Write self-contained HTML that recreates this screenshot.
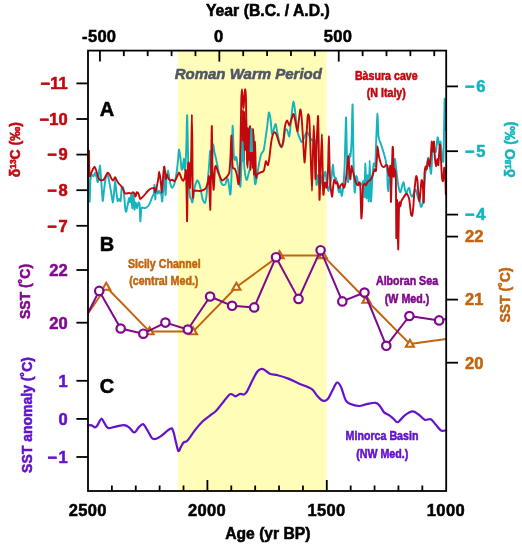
<!DOCTYPE html>
<html><head><meta charset="utf-8"><title>Roman Warm Period</title>
<style>html,body{margin:0;padding:0;background:#fff;}svg{display:block;}</style>
</head><body>
<svg width="522" height="550" viewBox="0 0 522 550" font-family="'Liberation Sans', Arial, Helvetica, sans-serif"><rect x="0" y="0" width="522" height="550" fill="#fff"/>
<rect x="177.9" y="50.6" width="148.70" height="440.40" fill="#FFFDB7"/>
<path d="M88.00,425.10 C88.62,425.15 90.50,425.02 91.70,425.40 C92.90,425.78 94.17,427.55 95.20,427.40 C96.23,427.25 96.88,425.95 97.90,424.50 C98.92,423.05 100.25,419.02 101.30,418.70 C102.35,418.38 103.08,421.07 104.20,422.60 C105.32,424.13 106.25,427.20 108.00,427.90 C109.75,428.60 111.98,427.27 114.70,426.80 C117.42,426.33 121.90,425.00 124.30,425.10 C126.70,425.20 127.43,426.17 129.10,427.40 C130.77,428.63 132.70,432.50 134.30,432.50 C135.90,432.50 137.23,428.80 138.70,427.40 C140.17,426.00 141.67,423.63 143.10,424.10 C144.53,424.57 145.63,427.73 147.30,430.20 C148.97,432.67 151.02,437.78 153.10,438.90 C155.18,440.02 156.93,438.60 159.80,436.90 C162.67,435.20 168.07,429.65 170.30,428.70 C172.53,427.75 172.25,428.92 173.20,431.20 C174.15,433.48 175.13,439.10 176.00,442.40 C176.87,445.70 177.60,450.20 178.40,451.00 C179.20,451.80 179.92,448.63 180.80,447.20 C181.68,445.77 182.58,443.52 183.70,442.40 C184.82,441.28 185.58,442.58 187.50,440.50 C189.42,438.42 192.65,433.10 195.20,429.90 C197.75,426.70 200.25,423.75 202.80,421.30 C205.35,418.85 208.27,416.95 210.50,415.20 C212.73,413.45 213.97,413.13 216.20,410.80 C218.43,408.47 221.67,403.92 223.90,401.20 C226.13,398.48 228.17,395.62 229.60,394.50 C231.03,393.38 231.53,394.18 232.50,394.50 C233.47,394.82 234.12,396.50 235.40,396.40 C236.68,396.30 238.77,394.22 240.20,393.90 C241.63,393.58 242.88,394.88 244.00,394.50 C245.12,394.12 245.47,394.00 246.90,391.60 C248.33,389.20 250.85,383.45 252.60,380.10 C254.35,376.75 255.97,373.35 257.40,371.50 C258.83,369.65 260.08,369.32 261.20,369.00 C262.32,368.68 262.65,368.80 264.10,369.60 C265.55,370.40 267.63,372.85 269.90,373.80 C272.17,374.75 274.65,374.50 277.70,375.30 C280.75,376.10 284.70,377.25 288.20,378.60 C291.70,379.95 294.87,381.72 298.70,383.40 C302.53,385.08 308.17,386.70 311.20,388.70 C314.23,390.70 314.98,393.42 316.90,395.40 C318.82,397.38 320.93,399.95 322.70,400.60 C324.47,401.25 325.90,400.95 327.50,399.30 C329.10,397.65 330.72,393.48 332.30,390.70 C333.88,387.92 335.57,383.25 337.00,382.60 C338.43,381.95 339.45,383.87 340.90,386.80 C342.35,389.73 344.10,397.32 345.70,400.20 C347.30,403.08 348.27,403.13 350.50,404.10 C352.73,405.07 356.37,406.00 359.10,406.00 C361.83,406.00 364.17,404.63 366.90,404.10 C369.63,403.57 373.35,402.50 375.50,402.80 C377.65,403.10 378.37,404.30 379.80,405.90 C381.23,407.50 382.52,410.83 384.10,412.40 C385.68,413.97 387.72,414.23 389.30,415.30 C390.88,416.37 392.17,417.65 393.60,418.80 C395.03,419.95 396.03,422.78 397.90,422.20 C399.77,421.62 402.35,417.10 404.80,415.30 C407.25,413.50 410.30,411.53 412.60,411.40 C414.90,411.27 416.58,413.12 418.60,414.50 C420.62,415.88 422.68,418.90 424.70,419.70 C426.72,420.50 428.83,418.45 430.70,419.30 C432.57,420.15 434.18,422.93 435.90,424.80 C437.62,426.67 439.28,429.58 441.00,430.50 C442.72,431.42 445.33,430.33 446.20,430.30" fill="none" stroke="#6412CC" stroke-width="2.2" stroke-linejoin="round" stroke-linecap="round"/>
<path d="M88.00,313.50 L106.20,287.00 L149.60,331.60 L193.00,331.60 L236.40,287.00 L279.60,255.40 L322.90,255.40 L366.40,300.00 L409.90,344.10 L446.20,339.00" fill="none" stroke="#C2650F" stroke-width="2" stroke-linejoin="round"/>
<path d="M106.20,282.80 L110.20,289.70 L102.20,289.70 Z" fill="#fff" stroke="#C2650F" stroke-width="2.1"/>
<path d="M149.60,327.40 L153.60,334.30 L145.60,334.30 Z" fill="#fff" stroke="#C2650F" stroke-width="2.1"/>
<path d="M193.00,327.40 L197.00,334.30 L189.00,334.30 Z" fill="#fff" stroke="#C2650F" stroke-width="2.1"/>
<path d="M236.40,282.80 L240.40,289.70 L232.40,289.70 Z" fill="#fff" stroke="#C2650F" stroke-width="2.1"/>
<path d="M279.60,251.20 L283.60,258.10 L275.60,258.10 Z" fill="#fff" stroke="#C2650F" stroke-width="2.1"/>
<path d="M322.90,251.20 L326.90,258.10 L318.90,258.10 Z" fill="#fff" stroke="#C2650F" stroke-width="2.1"/>
<path d="M366.40,295.80 L370.40,302.70 L362.40,302.70 Z" fill="#fff" stroke="#C2650F" stroke-width="2.1"/>
<path d="M409.90,339.90 L413.90,346.80 L405.90,346.80 Z" fill="#fff" stroke="#C2650F" stroke-width="2.1"/>
<path d="M88.00,313.00 L99.20,290.90 L120.70,328.50 L143.30,333.70 L165.40,322.60 L187.80,329.50 L210.10,296.50 L232.10,305.80 L254.20,307.40 L276.00,257.20 L298.50,298.90 L320.60,250.20 L342.30,301.40 L364.50,292.50 L386.30,345.80 L409.40,316.00 L439.10,320.40 L446.20,319.00" fill="none" stroke="#80088E" stroke-width="2" stroke-linejoin="round"/>
<circle cx="99.2" cy="290.9" r="4.2" fill="#fff" stroke="#80088E" stroke-width="2.2"/>
<circle cx="120.7" cy="328.5" r="4.2" fill="#fff" stroke="#80088E" stroke-width="2.2"/>
<circle cx="143.3" cy="333.7" r="4.2" fill="#fff" stroke="#80088E" stroke-width="2.2"/>
<circle cx="165.4" cy="322.6" r="4.2" fill="#fff" stroke="#80088E" stroke-width="2.2"/>
<circle cx="187.8" cy="329.5" r="4.2" fill="#fff" stroke="#80088E" stroke-width="2.2"/>
<circle cx="210.1" cy="296.5" r="4.2" fill="#fff" stroke="#80088E" stroke-width="2.2"/>
<circle cx="232.1" cy="305.8" r="4.2" fill="#fff" stroke="#80088E" stroke-width="2.2"/>
<circle cx="254.2" cy="307.4" r="4.2" fill="#fff" stroke="#80088E" stroke-width="2.2"/>
<circle cx="276.0" cy="257.2" r="4.2" fill="#fff" stroke="#80088E" stroke-width="2.2"/>
<circle cx="298.5" cy="298.9" r="4.2" fill="#fff" stroke="#80088E" stroke-width="2.2"/>
<circle cx="320.6" cy="250.2" r="4.2" fill="#fff" stroke="#80088E" stroke-width="2.2"/>
<circle cx="342.3" cy="301.4" r="4.2" fill="#fff" stroke="#80088E" stroke-width="2.2"/>
<circle cx="364.5" cy="292.5" r="4.2" fill="#fff" stroke="#80088E" stroke-width="2.2"/>
<circle cx="386.3" cy="345.8" r="4.2" fill="#fff" stroke="#80088E" stroke-width="2.2"/>
<circle cx="409.4" cy="316" r="4.2" fill="#fff" stroke="#80088E" stroke-width="2.2"/>
<circle cx="439.1" cy="320.4" r="4.2" fill="#fff" stroke="#80088E" stroke-width="2.2"/>
<path d="M88.60,178.50 C88.72,181.21 89.39,201.54 89.60,201.70 C89.81,201.86 90.14,183.04 90.40,179.90 C90.66,176.76 91.43,175.22 91.80,174.80 C92.17,174.38 93.23,176.56 93.60,176.30 C93.97,176.04 94.66,172.52 95.00,172.60 C95.34,172.68 96.16,175.89 96.50,177.00 C96.84,178.11 97.52,183.45 97.90,182.10 C98.29,180.75 99.40,165.48 99.80,165.40 C100.20,165.32 100.96,177.25 101.30,181.40 C101.64,185.55 102.36,200.16 102.70,201.00 C103.04,201.84 103.86,191.22 104.20,188.60 C104.54,185.97 105.21,180.19 105.60,178.50 C105.98,176.81 107.07,173.68 107.50,174.10 C107.93,174.52 108.83,179.72 109.30,182.10 C109.77,184.48 111.08,192.12 111.50,194.50 C111.92,196.88 112.60,202.68 112.90,202.50 C113.20,202.32 113.84,195.64 114.10,193.00 C114.36,190.36 114.82,179.90 115.10,179.90 C115.38,179.90 116.20,190.54 116.50,193.00 C116.80,195.46 117.39,200.32 117.70,201.00 C118.02,201.68 118.86,198.80 119.20,198.80 C119.54,198.80 120.32,202.19 120.60,201.00 C120.88,199.81 121.31,190.21 121.60,188.60 C121.89,186.99 122.81,186.51 123.10,187.20 C123.39,187.89 123.84,191.96 124.10,194.50 C124.36,197.04 125.05,206.98 125.30,209.00 C125.55,211.02 125.93,212.23 126.20,211.80 C126.47,211.37 127.26,206.91 127.60,205.30 C127.94,203.69 128.81,198.34 129.10,198.00 C129.39,197.66 129.84,202.74 130.10,202.40 C130.36,202.06 131.03,194.42 131.30,195.10 C131.57,195.78 132.14,208.38 132.40,208.20 C132.66,208.02 133.25,193.44 133.50,193.60 C133.75,193.76 134.25,208.57 134.50,209.60 C134.75,210.63 135.30,202.56 135.60,202.40 C135.90,202.24 136.76,208.20 137.10,208.20 C137.44,208.20 138.20,202.74 138.50,202.40 C138.80,202.06 139.49,203.09 139.70,205.30 C139.91,207.51 140.12,220.80 140.30,221.30 C140.48,221.80 140.98,211.21 141.20,209.60 C141.42,207.99 141.74,207.66 142.20,207.50 C142.66,207.34 144.42,208.38 145.10,208.20 C145.78,208.02 147.41,206.68 148.00,206.00 C148.59,205.32 149.69,203.51 150.20,202.40 C150.71,201.29 151.98,197.53 152.40,196.50 C152.82,195.47 153.56,194.95 153.80,193.60 C154.05,192.25 154.32,184.21 154.50,184.90 C154.68,185.59 155.12,199.16 155.30,199.50 C155.48,199.84 155.72,188.49 156.00,187.80 C156.28,187.11 157.36,193.26 157.70,193.60 C158.04,193.94 158.59,190.70 158.90,190.70 C159.22,190.70 160.13,193.26 160.40,193.60 C160.67,193.94 160.99,192.67 161.20,193.60 C161.41,194.53 161.97,202.10 162.20,201.60 C162.43,201.10 162.94,192.26 163.20,189.30 C163.46,186.34 164.13,175.52 164.40,176.20 C164.67,176.88 165.25,194.76 165.50,195.10 C165.75,195.44 166.21,181.98 166.50,179.10 C166.79,176.22 167.65,170.40 168.00,170.40 C168.35,170.40 169.16,177.33 169.50,179.10 C169.84,180.87 170.56,184.58 170.90,185.60 C171.24,186.62 171.98,188.05 172.40,187.80 C172.82,187.56 174.00,185.37 174.50,183.50 C175.00,181.63 176.27,174.69 176.70,171.80 C177.13,168.91 177.94,161.29 178.20,158.70 C178.46,156.11 178.64,149.76 178.90,149.60 C179.16,149.44 180.10,155.05 180.40,157.30 C180.70,159.55 181.25,167.55 181.50,168.90 C181.75,170.25 182.21,170.09 182.50,168.90 C182.79,167.71 183.71,158.52 184.00,158.70 C184.29,158.88 184.74,171.41 185.00,170.40 C185.26,169.39 185.94,156.42 186.20,150.00 C186.46,143.58 186.94,112.86 187.20,115.40 C187.46,117.94 188.10,162.50 188.40,171.80 C188.70,181.10 189.46,191.87 189.80,195.10 C190.14,198.33 191.01,198.65 191.30,199.50 C191.59,200.35 192.04,202.75 192.30,202.40 C192.56,202.05 193.20,198.37 193.50,196.50 C193.80,194.63 194.48,188.27 194.90,186.40 C195.32,184.53 196.69,181.06 197.10,180.50 C197.51,179.94 198.03,180.78 198.40,181.60 C198.77,182.42 199.81,185.44 200.30,187.50 C200.79,189.56 202.05,197.52 202.60,199.30 C203.15,201.09 204.53,203.35 205.00,202.80 C205.47,202.25 206.13,198.87 206.60,194.60 C207.07,190.33 208.58,171.31 209.00,166.20 C209.42,161.09 209.92,150.25 210.20,150.80 C210.48,151.35 211.07,171.59 211.40,170.90 C211.73,170.21 212.65,147.11 213.00,144.90 C213.35,142.69 214.04,150.34 214.40,152.00 C214.76,153.66 215.62,156.89 216.10,159.10 C216.58,161.31 217.95,168.28 218.50,170.90 C219.05,173.53 220.25,179.94 220.80,181.60 C221.35,183.26 222.64,184.83 223.20,185.10 C223.76,185.37 225.13,184.73 225.60,183.90 C226.07,183.07 226.85,178.14 227.20,178.00 C227.55,177.86 228.24,180.76 228.60,182.70 C228.96,184.64 229.96,195.42 230.30,194.60 C230.64,193.78 231.23,183.70 231.50,175.70 C231.77,167.70 232.33,128.41 232.60,126.00 C232.87,123.59 233.52,151.03 233.80,155.00 C234.08,158.97 234.72,159.77 235.00,160.00 C235.28,160.23 235.90,156.42 236.20,157.00 C236.50,157.58 237.31,162.95 237.60,165.00 C237.89,167.05 238.36,172.15 238.70,174.60 C239.04,177.05 240.07,189.80 240.50,186.00 C240.93,182.20 241.93,144.01 242.40,142.00 C242.87,139.99 244.02,164.37 244.50,168.80 C244.98,173.23 246.03,179.39 246.50,180.00 C246.97,180.61 248.06,175.76 248.50,174.00 C248.94,172.24 249.97,170.15 250.30,164.90 C250.63,159.65 250.96,129.46 251.30,129.00 C251.64,128.54 252.76,154.58 253.20,161.00 C253.64,167.42 254.66,182.25 255.10,184.00 C255.54,185.75 256.55,178.33 257.00,176.00 C257.45,173.67 258.53,166.51 259.00,164.00 C259.47,161.49 260.46,156.09 261.00,154.50 C261.54,152.91 263.12,151.91 263.60,150.40 C264.08,148.90 264.76,143.81 265.10,141.60 C265.44,139.39 266.22,133.54 266.50,131.50 C266.78,129.46 267.22,126.32 267.50,124.10 C267.78,121.88 268.56,113.18 268.90,112.50 C269.24,111.82 270.03,115.76 270.40,118.30 C270.77,120.84 271.68,133.11 272.10,134.30 C272.52,135.49 273.58,129.69 274.00,128.50 C274.42,127.31 275.28,123.42 275.70,124.10 C276.12,124.78 277.12,131.92 277.60,134.30 C278.08,136.68 279.32,142.97 279.80,144.50 C280.28,146.03 281.27,147.75 281.70,147.40 C282.13,147.05 283.09,143.54 283.50,141.50 C283.91,139.46 284.78,131.25 285.20,129.90 C285.62,128.55 286.62,129.13 287.10,129.90 C287.58,130.67 288.88,137.18 289.30,136.50 C289.72,135.82 290.36,127.25 290.70,124.10 C291.04,120.95 291.86,112.14 292.20,109.50 C292.54,106.86 293.26,101.33 293.60,101.50 C293.94,101.67 294.76,108.36 295.10,111.00 C295.44,113.64 296.16,121.47 296.50,124.10 C296.84,126.72 297.57,131.73 298.00,133.50 C298.43,135.27 299.78,138.29 300.20,139.30 C300.62,140.31 301.16,142.35 301.60,142.20 C302.04,142.05 303.41,139.19 304.00,138.00 C304.59,136.81 306.13,132.36 306.70,132.00 C307.27,131.64 308.38,134.04 308.90,134.90 C309.42,135.76 310.72,138.69 311.20,139.40 C311.68,140.11 312.53,140.70 313.00,141.00 C313.47,141.30 314.80,136.95 315.20,142.00 C315.60,147.05 316.07,180.45 316.40,184.30 C316.73,188.15 317.64,174.57 318.00,175.00 C318.36,175.43 319.15,187.88 319.50,188.00 C319.85,188.12 320.65,176.23 321.00,176.00 C321.35,175.77 322.15,186.00 322.50,186.00 C322.85,186.00 323.65,177.63 324.00,176.00 C324.35,174.37 325.14,170.94 325.50,172.00 C325.86,173.06 326.75,182.89 327.10,185.10 C327.45,187.31 328.16,191.08 328.50,190.90 C328.84,190.72 329.65,185.13 330.00,183.60 C330.35,182.07 331.16,180.01 331.50,177.80 C331.84,175.59 332.60,164.86 332.90,164.70 C333.20,164.54 333.76,174.87 334.10,176.40 C334.44,177.93 335.43,176.96 335.80,177.80 C336.17,178.64 336.93,181.90 337.30,183.60 C337.67,185.30 338.66,192.06 339.00,192.40 C339.34,192.74 339.90,186.08 340.20,186.50 C340.50,186.92 341.26,195.82 341.60,196.00 C341.94,196.18 342.76,191.14 343.10,188.00 C343.44,184.86 344.24,174.53 344.50,169.10 C344.76,163.67 345.11,147.52 345.30,141.50 C345.49,135.48 345.90,115.34 346.10,117.50 C346.30,119.66 346.75,152.45 347.00,160.00 C347.25,167.55 347.90,182.84 348.20,182.20 C348.50,181.56 349.33,157.56 349.60,154.50 C349.87,151.44 350.27,157.69 350.50,156.00 C350.73,154.31 351.36,146.01 351.60,140.00 C351.85,133.99 352.38,102.27 352.60,104.50 C352.82,106.73 353.31,149.67 353.50,159.10 C353.69,168.53 354.04,181.40 354.20,185.30 C354.36,189.20 354.68,193.53 354.90,192.50 C355.12,191.47 355.84,178.19 356.10,176.50 C356.36,174.81 356.82,176.97 357.10,178.00 C357.38,179.03 358.16,184.79 358.50,185.30 C358.84,185.81 359.59,182.44 360.00,182.40 C360.41,182.37 361.58,185.18 362.00,185.00 C362.42,184.82 363.32,179.51 363.60,180.90 C363.88,182.29 364.19,198.93 364.40,196.90 C364.61,194.87 365.15,163.32 365.40,163.50 C365.64,163.68 366.23,197.05 366.50,198.40 C366.77,199.75 367.44,174.76 367.70,175.10 C367.96,175.44 368.47,203.00 368.70,201.30 C368.93,199.60 369.44,160.50 369.70,160.50 C369.96,160.50 370.58,199.26 370.90,201.30 C371.21,203.34 372.06,182.41 372.40,178.00 C372.74,173.59 373.46,164.85 373.80,163.50 C374.14,162.15 375.09,167.02 375.30,166.40 C375.51,165.78 375.47,161.88 375.60,158.20 C375.73,154.52 376.18,140.08 376.40,134.90 C376.62,129.72 377.25,113.62 377.50,113.80 C377.75,113.97 378.13,132.92 378.50,136.40 C378.87,139.88 380.10,141.73 380.70,143.60 C381.30,145.47 383.00,150.36 383.60,152.40 C384.20,154.44 385.37,158.73 385.80,161.10 C386.23,163.47 387.09,169.88 387.30,172.70 C387.51,175.52 387.47,183.15 387.60,185.30 C387.73,187.45 388.25,191.30 388.40,191.10 C388.55,190.90 388.67,185.83 388.90,183.60 C389.13,181.37 390.06,174.03 390.40,172.00 C390.74,169.97 391.38,166.71 391.80,166.20 C392.22,165.69 393.63,168.45 394.00,167.60 C394.37,166.75 394.74,158.72 395.00,158.90 C395.26,159.08 395.91,166.64 396.20,169.10 C396.49,171.56 397.16,177.62 397.50,180.00 C397.84,182.38 398.75,188.05 399.10,189.50 C399.45,190.95 400.16,192.75 400.50,192.40 C400.84,192.05 401.65,187.69 402.00,186.50 C402.35,185.31 403.16,181.85 403.50,182.20 C403.84,182.55 404.56,188.15 404.90,189.50 C405.24,190.85 406.06,193.80 406.40,193.80 C406.74,193.80 407.46,190.18 407.80,189.50 C408.14,188.82 409.00,187.50 409.30,188.00 C409.60,188.50 410.10,192.79 410.40,193.80 C410.70,194.81 411.53,196.70 411.90,196.70 C412.27,196.70 413.23,194.64 413.60,193.80 C413.97,192.96 414.76,189.71 415.10,189.50 C415.44,189.29 416.16,190.99 416.50,192.00 C416.84,193.01 417.65,197.14 418.00,198.20 C418.35,199.26 419.16,200.08 419.50,201.10 C419.84,202.12 420.56,206.56 420.90,206.90 C421.24,207.24 422.06,205.74 422.40,204.00 C422.74,202.26 423.46,195.55 423.80,192.00 C424.14,188.45 424.96,176.59 425.30,173.60 C425.64,170.61 426.36,168.27 426.70,166.40 C427.04,164.53 427.86,157.78 428.20,157.60 C428.54,157.42 429.26,163.03 429.60,164.90 C429.94,166.77 430.76,175.13 431.10,173.60 C431.44,172.07 432.16,154.84 432.50,151.80 C432.84,148.76 433.60,147.50 434.00,147.50 C434.40,147.50 435.48,152.99 435.90,151.80 C436.32,150.61 437.23,138.15 437.60,137.30 C437.97,136.45 438.76,144.00 439.10,144.50 C439.44,145.00 440.16,140.23 440.50,141.60 C440.84,142.97 441.65,154.16 442.00,156.20 C442.35,158.24 443.20,165.78 443.50,159.10 C443.80,152.41 444.37,102.30 444.60,98.90 C444.83,95.51 445.39,126.37 445.50,130.00" fill="none" stroke="#15B3BE" stroke-width="1.9" stroke-linejoin="round" stroke-linecap="round"/>
<path d="M89.00,150.80 C89.02,152.33 89.13,160.93 89.20,163.90 C89.27,166.88 89.38,175.19 89.60,176.30 C89.82,177.41 90.70,174.25 91.10,173.40 C91.50,172.55 92.58,169.77 93.00,169.00 C93.42,168.23 94.33,166.62 94.70,166.80 C95.07,166.98 95.83,169.39 96.20,170.50 C96.57,171.61 97.48,175.20 97.90,176.30 C98.32,177.40 99.15,179.48 99.80,179.90 C100.45,180.32 102.82,180.32 103.50,179.90 C104.18,179.48 105.13,177.12 105.60,176.30 C106.07,175.48 107.07,173.16 107.50,172.90 C107.93,172.64 108.89,173.54 109.30,174.10 C109.71,174.66 110.58,176.94 111.00,177.70 C111.42,178.46 112.42,180.65 112.90,180.60 C113.38,180.55 114.68,177.38 115.10,177.30 C115.52,177.22 116.08,179.18 116.50,179.90 C116.92,180.62 118.19,182.82 118.70,183.50 C119.21,184.18 120.39,185.01 120.90,185.70 C121.41,186.39 122.67,188.56 123.10,189.40 C123.53,190.24 124.24,192.41 124.60,192.90 C124.96,193.39 125.67,193.60 126.20,193.60 C126.73,193.60 128.50,192.90 129.10,192.90 C129.69,192.90 130.84,193.68 131.30,193.60 C131.76,193.52 132.63,192.20 133.00,192.20 C133.37,192.20 134.20,193.10 134.50,193.60 C134.80,194.10 135.33,196.66 135.60,196.50 C135.87,196.34 136.46,192.54 136.80,192.20 C137.14,191.86 138.13,192.84 138.50,193.60 C138.87,194.36 139.65,198.19 140.00,198.70 C140.35,199.21 140.99,198.42 141.50,198.00 C142.01,197.58 143.72,195.86 144.40,195.10 C145.08,194.34 146.62,192.21 147.30,191.50 C147.98,190.79 149.52,189.40 150.20,189.00 C150.88,188.60 152.60,188.16 153.10,188.10 C153.60,188.04 154.24,188.02 154.50,188.50 C154.76,188.98 155.04,192.36 155.30,192.20 C155.56,192.04 156.36,188.63 156.70,187.10 C157.04,185.57 157.91,180.88 158.20,179.10 C158.49,177.31 158.94,171.80 159.20,171.80 C159.46,171.80 160.17,177.40 160.40,179.10 C160.63,180.80 161.05,184.87 161.20,186.40 C161.35,187.93 161.50,193.05 161.70,192.20 C161.90,191.35 162.62,182.07 162.90,179.10 C163.18,176.12 163.84,167.55 164.10,166.70 C164.36,165.85 164.90,170.35 165.10,171.80 C165.30,173.25 165.58,178.76 165.80,179.10 C166.02,179.44 166.74,174.88 167.00,174.70 C167.26,174.52 167.63,176.92 168.00,177.60 C168.37,178.28 169.69,180.24 170.20,180.50 C170.71,180.76 171.90,179.71 172.40,179.80 C172.90,179.89 174.00,181.56 174.50,181.30 C175.00,181.04 176.19,178.63 176.70,177.60 C177.21,176.57 178.47,172.75 178.90,172.50 C179.33,172.25 180.06,174.73 180.40,175.50 C180.74,176.27 181.46,178.48 181.80,179.10 C182.14,179.72 182.96,180.98 183.30,180.80 C183.64,180.62 184.40,178.81 184.70,177.60 C185.00,176.39 185.68,168.53 185.90,170.40 C186.12,172.27 186.46,187.66 186.60,193.60 C186.74,199.54 186.98,222.14 187.10,221.30 C187.22,220.46 187.48,193.03 187.60,186.40 C187.72,179.77 187.92,167.06 188.10,164.50 C188.28,161.94 188.90,161.78 189.10,164.50 C189.30,167.22 189.64,186.10 189.80,187.80 C189.96,189.50 190.32,183.51 190.50,179.10 C190.68,174.69 191.14,157.51 191.30,150.00 C191.46,142.49 191.77,114.70 191.90,114.70 C192.03,114.70 192.31,140.46 192.40,150.00 C192.49,159.54 192.57,191.75 192.70,196.50 C192.83,201.25 193.24,191.38 193.50,190.70 C193.76,190.02 194.48,190.70 194.90,190.70 C195.32,190.70 196.42,190.66 197.10,190.70 C197.78,190.73 199.72,191.23 200.70,191.00 C201.68,190.77 204.67,189.67 205.50,188.70 C206.33,187.73 207.39,184.09 207.80,182.70 C208.21,181.31 208.72,173.63 209.00,176.80 C209.28,179.97 209.98,209.76 210.20,209.90 C210.42,210.04 210.71,187.79 210.90,178.00 C211.09,168.21 211.61,126.83 211.80,126.00 C211.99,125.17 212.28,163.46 212.50,170.90 C212.72,178.34 213.42,190.07 213.70,189.80 C213.98,189.53 214.62,171.35 214.90,168.60 C215.18,165.85 215.68,165.65 216.10,166.20 C216.52,166.75 217.81,171.64 218.50,173.30 C219.19,174.96 221.17,179.85 222.00,180.40 C222.83,180.95 224.77,178.83 225.60,178.00 C226.43,177.17 228.55,175.37 229.10,173.30 C229.65,171.24 230.02,164.71 230.30,160.30 C230.58,155.89 231.23,134.81 231.50,135.50 C231.77,136.19 232.20,162.31 232.60,166.20 C233.00,170.08 234.41,167.82 234.90,168.80 C235.39,169.78 236.36,172.80 236.80,174.60 C237.24,176.40 238.31,185.77 238.70,184.20 C239.08,182.62 239.80,170.92 240.10,161.10 C240.40,151.28 241.08,108.38 241.30,100.00 C241.52,91.62 241.82,89.30 242.00,89.30 C242.18,89.30 242.62,97.82 242.80,100.00 C242.98,102.18 243.32,108.23 243.50,108.00 C243.68,107.77 244.10,100.18 244.30,98.00 C244.50,95.82 245.00,89.07 245.20,89.30 C245.40,89.53 245.84,93.88 246.00,100.00 C246.16,106.12 246.41,133.87 246.60,141.80 C246.79,149.73 247.37,168.00 247.60,168.00 C247.83,168.00 248.31,146.65 248.60,141.80 C248.89,136.95 249.81,124.15 250.10,126.40 C250.39,128.65 250.87,159.51 251.10,161.10 C251.33,162.69 251.87,143.60 252.10,140.00 C252.33,136.40 252.87,126.16 253.10,130.20 C253.33,134.24 253.88,173.25 254.10,174.60 C254.32,175.95 254.78,141.58 255.00,141.80 C255.22,142.02 255.77,172.67 256.00,176.50 C256.23,180.33 256.53,175.06 257.00,174.60 C257.47,174.14 259.21,173.06 260.00,172.60 C260.79,172.14 263.12,172.02 263.80,170.70 C264.48,169.38 265.39,162.06 265.80,161.30 C266.21,160.54 267.02,163.79 267.30,164.20 C267.58,164.61 267.93,165.75 268.20,164.80 C268.47,163.86 269.26,158.64 269.60,156.10 C269.94,153.56 270.76,145.38 271.10,143.00 C271.44,140.62 272.08,136.97 272.50,135.70 C272.92,134.43 274.19,132.10 274.70,132.10 C275.21,132.10 276.39,134.43 276.90,135.70 C277.41,136.97 278.59,141.73 279.10,143.00 C279.61,144.27 280.82,146.78 281.30,146.60 C281.78,146.42 282.78,143.79 283.20,141.50 C283.62,139.21 284.44,129.45 284.90,127.00 C285.35,124.55 286.59,120.67 287.10,120.50 C287.61,120.33 288.88,125.34 289.30,125.50 C289.72,125.66 290.23,123.25 290.70,121.90 C291.17,120.55 292.79,114.16 293.30,113.90 C293.81,113.64 294.63,117.66 295.10,119.70 C295.57,121.74 296.88,131.22 297.30,131.40 C297.72,131.58 298.35,123.76 298.70,121.20 C299.05,118.64 299.96,109.99 300.30,109.50 C300.64,109.01 301.27,113.44 301.60,117.00 C301.93,120.56 302.76,134.69 303.10,140.00 C303.44,145.31 304.16,162.08 304.50,162.50 C304.84,162.92 305.65,148.69 306.00,143.60 C306.35,138.51 307.23,122.32 307.50,118.90 C307.77,115.48 308.08,114.17 308.30,114.30 C308.52,114.43 309.14,115.83 309.40,120.00 C309.66,124.17 310.20,141.72 310.50,150.00 C310.80,158.28 311.71,191.00 312.00,191.00 C312.29,191.00 312.79,157.64 313.00,150.00 C313.21,142.36 313.60,125.50 313.80,125.50 C314.00,125.50 314.50,143.76 314.70,150.00 C314.90,156.24 315.25,180.17 315.50,179.00 C315.75,177.83 316.50,147.35 316.80,140.00 C317.10,132.65 317.87,114.83 318.10,116.00 C318.33,117.17 318.64,140.22 318.80,150.00 C318.96,159.78 319.28,198.05 319.50,199.80 C319.72,201.55 320.42,172.65 320.70,165.00 C320.98,157.35 321.68,134.20 321.90,134.20 C322.12,134.20 322.44,157.95 322.60,165.00 C322.76,172.05 323.02,192.56 323.30,194.60 C323.58,196.64 324.60,183.31 325.00,182.50 C325.40,181.69 326.35,189.16 326.70,187.70 C327.05,186.24 327.75,175.98 328.00,170.00 C328.25,164.02 328.60,136.50 328.80,136.40 C329.00,136.30 329.48,163.08 329.70,169.10 C329.92,175.12 330.41,184.78 330.70,188.00 C330.99,191.22 331.90,197.04 332.20,196.70 C332.50,196.36 333.04,187.13 333.30,185.10 C333.56,183.07 334.11,179.48 334.40,179.30 C334.69,179.12 335.46,183.26 335.80,183.60 C336.14,183.94 336.96,181.69 337.30,182.20 C337.64,182.71 338.36,187.58 338.70,188.00 C339.04,188.42 339.77,186.31 340.20,185.80 C340.63,185.29 341.98,183.34 342.40,183.60 C342.82,183.86 343.46,188.00 343.80,188.00 C344.14,188.00 344.96,185.47 345.30,183.60 C345.64,181.73 346.35,175.21 346.70,172.00 C347.05,168.79 348.01,156.44 348.30,156.10 C348.59,155.76 348.95,166.39 349.20,169.10 C349.44,171.81 350.13,179.63 350.40,179.30 C350.67,178.97 351.31,167.64 351.50,166.30 C351.69,164.96 351.77,166.95 352.00,167.80 C352.23,168.65 353.16,172.23 353.50,173.60 C353.84,174.97 354.56,178.31 354.90,179.50 C355.24,180.69 356.06,183.12 356.40,183.80 C356.74,184.48 357.46,185.46 357.80,185.30 C358.14,185.14 359.00,182.06 359.30,182.40 C359.60,182.74 360.17,184.05 360.40,188.20 C360.63,192.35 361.09,215.63 361.30,218.00 C361.51,220.37 362.01,212.15 362.20,208.50 C362.39,204.85 362.64,189.58 362.90,186.70 C363.16,183.82 364.06,183.96 364.40,183.80 C364.74,183.64 365.46,185.46 365.80,185.30 C366.14,185.14 366.96,182.91 367.30,182.40 C367.64,181.89 368.36,181.16 368.70,180.90 C369.04,180.64 369.86,180.54 370.20,180.20 C370.54,179.86 371.26,178.77 371.60,178.00 C371.94,177.23 372.76,174.61 373.10,173.60 C373.44,172.59 374.16,169.64 374.50,169.30 C374.84,168.96 375.71,172.23 376.00,170.70 C376.29,169.17 376.82,159.05 377.00,156.20 C377.18,153.35 377.28,146.30 377.50,146.30 C377.72,146.30 378.56,154.37 378.90,156.20 C379.24,158.03 380.06,160.90 380.40,162.00 C380.74,163.10 381.46,165.00 381.80,165.60 C382.14,166.19 382.96,167.01 383.30,167.10 C383.64,167.19 384.36,166.66 384.70,166.40 C385.04,166.14 385.86,164.92 386.20,164.90 C386.54,164.88 387.29,164.86 387.60,166.20 C387.92,167.54 388.57,176.40 388.90,176.40 C389.23,176.40 390.17,163.24 390.40,166.20 C390.63,169.16 390.77,199.61 390.90,201.80 C391.03,203.99 391.31,191.10 391.50,185.00 C391.69,178.90 392.31,153.64 392.50,149.50 C392.69,145.36 392.97,146.36 393.10,149.50 C393.23,152.64 393.41,174.11 393.60,176.40 C393.79,178.69 394.43,168.60 394.70,169.10 C394.97,169.60 395.71,172.66 395.90,180.70 C396.09,188.74 396.17,235.75 396.30,238.00 C396.43,240.25 396.78,198.66 397.00,200.00 C397.22,201.34 397.95,249.03 398.20,249.50 C398.44,249.97 398.84,209.05 399.10,204.00 C399.36,198.95 400.14,206.54 400.40,206.20 C400.66,205.86 400.94,202.11 401.30,201.10 C401.66,200.09 403.00,198.27 403.50,197.50 C404.00,196.73 405.20,194.93 405.60,194.50 C406.00,194.07 406.50,193.37 406.90,193.80 C407.30,194.23 408.64,196.83 409.00,198.20 C409.36,199.56 409.77,203.63 410.00,205.50 C410.23,207.37 410.74,213.02 411.00,214.20 C411.26,215.38 411.93,216.45 412.20,215.60 C412.47,214.75 413.04,209.76 413.30,206.90 C413.56,204.04 414.07,194.65 414.40,191.10 C414.73,187.55 415.76,177.85 416.10,176.50 C416.44,175.15 417.03,177.46 417.30,179.50 C417.57,181.54 418.14,191.46 418.40,194.00 C418.66,196.54 419.25,201.64 419.50,201.30 C419.75,200.96 420.25,193.56 420.50,191.10 C420.75,188.64 421.33,180.88 421.60,180.20 C421.87,179.52 422.54,182.68 422.80,185.30 C423.06,187.93 423.60,204.06 423.80,202.70 C424.00,201.33 424.28,177.83 424.50,173.60 C424.72,169.37 425.44,166.90 425.70,166.40 C425.96,165.90 426.41,170.15 426.70,169.30 C426.99,168.45 427.86,159.44 428.20,159.10 C428.54,158.76 429.31,166.58 429.60,166.40 C429.89,166.22 430.44,160.49 430.70,157.60 C430.96,154.71 431.53,142.28 431.80,141.60 C432.07,140.92 432.74,151.80 433.00,151.80 C433.26,151.80 433.77,140.75 434.00,141.60 C434.23,142.45 434.74,156.21 435.00,159.10 C435.26,161.99 435.93,166.40 436.20,166.40 C436.47,166.40 437.04,159.28 437.30,159.10 C437.56,158.92 438.11,166.60 438.40,164.90 C438.69,163.20 439.52,145.52 439.80,144.50 C440.08,143.48 440.54,152.29 440.80,156.20 C441.06,160.11 441.72,175.12 442.00,178.00 C442.28,180.88 442.94,182.09 443.20,180.90 C443.46,179.71 443.97,168.65 444.20,167.80 C444.43,166.95 445.01,170.54 445.20,173.60 C445.39,176.66 445.73,191.62 445.80,194.00" fill="none" stroke="#C2080E" stroke-width="1.9" stroke-linejoin="round" stroke-linecap="round"/>
<path d="M241.60,112.00 L243.50,112.00 L241.60,125.00 L242.30,150.00 L243.00,110.00 L243.80,160.00 L244.60,112.00 L245.50,150.00 L246.30,120.00 L247.10,165.00 L247.90,128.00 L248.80,160.00 L249.60,128.00 L250.50,170.00 L251.50,132.00 L252.50,168.00 L253.50,134.00 L254.50,160.00 L255.30,145.00" fill="none" stroke="#C2080E" stroke-width="1.6" stroke-linejoin="round"/>
<path d="M241.8,162 L242.6,142 L243.5,162 M250.5,152 L251.3,129 L252.2,152" fill="none" stroke="#15B3BE" stroke-width="1.9" stroke-linejoin="round"/>
<rect x="88.0" y="50.6" width="358.20" height="440.40" fill="none" stroke="#000" stroke-width="1.8"/>
<line x1="99.94" y1="50.6" x2="99.94" y2="61.6" stroke="#000" stroke-width="1.8"/>
<line x1="123.82" y1="50.6" x2="123.82" y2="56.1" stroke="#000" stroke-width="1.8"/>
<line x1="147.70" y1="50.6" x2="147.70" y2="56.1" stroke="#000" stroke-width="1.8"/>
<line x1="171.58" y1="50.6" x2="171.58" y2="56.1" stroke="#000" stroke-width="1.8"/>
<line x1="195.46" y1="50.6" x2="195.46" y2="56.1" stroke="#000" stroke-width="1.8"/>
<line x1="219.34" y1="50.6" x2="219.34" y2="61.6" stroke="#000" stroke-width="1.8"/>
<line x1="243.22" y1="50.6" x2="243.22" y2="56.1" stroke="#000" stroke-width="1.8"/>
<line x1="267.10" y1="50.6" x2="267.10" y2="56.1" stroke="#000" stroke-width="1.8"/>
<line x1="290.98" y1="50.6" x2="290.98" y2="56.1" stroke="#000" stroke-width="1.8"/>
<line x1="314.86" y1="50.6" x2="314.86" y2="56.1" stroke="#000" stroke-width="1.8"/>
<line x1="338.74" y1="50.6" x2="338.74" y2="61.6" stroke="#000" stroke-width="1.8"/>
<line x1="362.62" y1="50.6" x2="362.62" y2="56.1" stroke="#000" stroke-width="1.8"/>
<line x1="386.50" y1="50.6" x2="386.50" y2="56.1" stroke="#000" stroke-width="1.8"/>
<line x1="410.38" y1="50.6" x2="410.38" y2="56.1" stroke="#000" stroke-width="1.8"/>
<line x1="434.26" y1="50.6" x2="434.26" y2="56.1" stroke="#000" stroke-width="1.8"/>
<line x1="422.32" y1="491.0" x2="422.32" y2="485.5" stroke="#000" stroke-width="1.8"/>
<line x1="398.44" y1="491.0" x2="398.44" y2="485.5" stroke="#000" stroke-width="1.8"/>
<line x1="374.56" y1="491.0" x2="374.56" y2="485.5" stroke="#000" stroke-width="1.8"/>
<line x1="350.68" y1="491.0" x2="350.68" y2="485.5" stroke="#000" stroke-width="1.8"/>
<line x1="326.80" y1="491.0" x2="326.80" y2="480.0" stroke="#000" stroke-width="1.8"/>
<line x1="302.92" y1="491.0" x2="302.92" y2="485.5" stroke="#000" stroke-width="1.8"/>
<line x1="279.04" y1="491.0" x2="279.04" y2="485.5" stroke="#000" stroke-width="1.8"/>
<line x1="255.16" y1="491.0" x2="255.16" y2="485.5" stroke="#000" stroke-width="1.8"/>
<line x1="231.28" y1="491.0" x2="231.28" y2="485.5" stroke="#000" stroke-width="1.8"/>
<line x1="207.40" y1="491.0" x2="207.40" y2="480.0" stroke="#000" stroke-width="1.8"/>
<line x1="183.52" y1="491.0" x2="183.52" y2="485.5" stroke="#000" stroke-width="1.8"/>
<line x1="159.64" y1="491.0" x2="159.64" y2="485.5" stroke="#000" stroke-width="1.8"/>
<line x1="135.76" y1="491.0" x2="135.76" y2="485.5" stroke="#000" stroke-width="1.8"/>
<line x1="111.88" y1="491.0" x2="111.88" y2="485.5" stroke="#000" stroke-width="1.8"/>
<line x1="76.4" y1="83.4" x2="88.0" y2="83.4" stroke="#000" stroke-width="1.8"/>
<line x1="76.4" y1="119.0" x2="88.0" y2="119.0" stroke="#000" stroke-width="1.8"/>
<line x1="76.4" y1="154.6" x2="88.0" y2="154.6" stroke="#000" stroke-width="1.8"/>
<line x1="76.4" y1="190.2" x2="88.0" y2="190.2" stroke="#000" stroke-width="1.8"/>
<line x1="76.4" y1="225.8" x2="88.0" y2="225.8" stroke="#000" stroke-width="1.8"/>
<line x1="76.4" y1="270.0" x2="88.0" y2="270.0" stroke="#000" stroke-width="1.8"/>
<line x1="76.4" y1="322.7" x2="88.0" y2="322.7" stroke="#000" stroke-width="1.8"/>
<line x1="76.4" y1="380.8" x2="88.0" y2="380.8" stroke="#000" stroke-width="1.8"/>
<line x1="76.4" y1="418.9" x2="88.0" y2="418.9" stroke="#000" stroke-width="1.8"/>
<line x1="76.4" y1="457.0" x2="88.0" y2="457.0" stroke="#000" stroke-width="1.8"/>
<line x1="446.2" y1="86.4" x2="458" y2="86.4" stroke="#000" stroke-width="1.8"/>
<line x1="446.2" y1="151.2" x2="458" y2="151.2" stroke="#000" stroke-width="1.8"/>
<line x1="446.2" y1="214.6" x2="458" y2="214.6" stroke="#000" stroke-width="1.8"/>
<line x1="446.2" y1="236.6" x2="458" y2="236.6" stroke="#000" stroke-width="1.8"/>
<line x1="446.2" y1="299.6" x2="458" y2="299.6" stroke="#000" stroke-width="1.8"/>
<line x1="446.2" y1="362.7" x2="458" y2="362.7" stroke="#000" stroke-width="1.8"/>
<text x="267.85" y="15.8" font-size="16" fill="#000" stroke="#000" stroke-width="0.55" text-anchor="middle" font-weight="bold" font-style="normal" textLength="123.8" lengthAdjust="spacingAndGlyphs">Year (B.C. / A.D.)</text>
<text x="99.24" y="41.6" font-size="16.5" fill="#000" stroke="#000" stroke-width="0.55" text-anchor="middle" font-weight="bold" font-style="normal" letter-spacing="0.3">-500</text>
<text x="218.64" y="41.6" font-size="16.5" fill="#000" stroke="#000" stroke-width="0.55" text-anchor="middle" font-weight="bold" font-style="normal" letter-spacing="0.3">0</text>
<text x="338.04" y="41.6" font-size="16.5" fill="#000" stroke="#000" stroke-width="0.55" text-anchor="middle" font-weight="bold" font-style="normal" letter-spacing="0.3">500</text>
<text x="87.7" y="515.6" font-size="16.5" fill="#000" stroke="#000" stroke-width="0.55" text-anchor="middle" font-weight="bold" font-style="normal" letter-spacing="0.35">2500</text>
<text x="207.1" y="515.6" font-size="16.5" fill="#000" stroke="#000" stroke-width="0.55" text-anchor="middle" font-weight="bold" font-style="normal" letter-spacing="0.35">2000</text>
<text x="326.5" y="515.6" font-size="16.5" fill="#000" stroke="#000" stroke-width="0.55" text-anchor="middle" font-weight="bold" font-style="normal" letter-spacing="0.35">1500</text>
<text x="445.9" y="515.6" font-size="16.5" fill="#000" stroke="#000" stroke-width="0.55" text-anchor="middle" font-weight="bold" font-style="normal" letter-spacing="0.35">1000</text>
<text x="267.85" y="538.8" font-size="16" fill="#000" stroke="#000" stroke-width="0.55" text-anchor="middle" font-weight="bold" font-style="normal" textLength="85.2" lengthAdjust="spacingAndGlyphs">Age (yr BP)</text>
<text x="248.3" y="79.3" font-size="15" fill="#4F5667" stroke="#4F5667" stroke-width="0.55" text-anchor="middle" font-weight="bold" font-style="italic">Roman Warm Period</text>
<text x="99.8" y="115.8" font-size="20" fill="#000" stroke="#000" stroke-width="0.55" text-anchor="start" font-weight="bold" font-style="normal">A</text>
<text x="99.8" y="250.8" font-size="20" fill="#000" stroke="#000" stroke-width="0.55" text-anchor="start" font-weight="bold" font-style="normal">B</text>
<text x="99.8" y="392.8" font-size="20" fill="#000" stroke="#000" stroke-width="0.55" text-anchor="start" font-weight="bold" font-style="normal">C</text>
<text transform="translate(164.3,267.8) scale(0.82,1)" x="0" y="0" font-size="13" fill="#C2650F" stroke="#C2650F" stroke-width="0.55" text-anchor="middle" font-weight="bold">Sicily Channel</text>
<text transform="translate(163.8,285.2) scale(0.82,1)" x="0" y="0" font-size="13" fill="#C2650F" stroke="#C2650F" stroke-width="0.55" text-anchor="middle" font-weight="bold">(central Med.)</text>
<text transform="translate(407.0,285.0) scale(0.82,1)" x="0" y="0" font-size="13" fill="#80088E" stroke="#80088E" stroke-width="0.55" text-anchor="middle" font-weight="bold">Alboran Sea</text>
<text transform="translate(407.0,302.6) scale(0.82,1)" x="0" y="0" font-size="13" fill="#80088E" stroke="#80088E" stroke-width="0.55" text-anchor="middle" font-weight="bold">(W Med.)</text>
<text transform="translate(382.0,440.0) scale(0.82,1)" x="0" y="0" font-size="13" fill="#6412CC" stroke="#6412CC" stroke-width="0.55" text-anchor="middle" font-weight="bold">Minorca Basin</text>
<text transform="translate(382.2,457.6) scale(0.82,1)" x="0" y="0" font-size="13" fill="#6412CC" stroke="#6412CC" stroke-width="0.55" text-anchor="middle" font-weight="bold">(NW Med.)</text>
<text transform="translate(386.3,79.6) scale(0.82,1)" x="0" y="0" font-size="13" fill="#C2080E" stroke="#C2080E" stroke-width="0.55" text-anchor="middle" font-weight="bold">Bàsura cave</text>
<text transform="translate(386.3,96.6) scale(0.82,1)" x="0" y="0" font-size="13" fill="#C2080E" stroke="#C2080E" stroke-width="0.55" text-anchor="middle" font-weight="bold">(N Italy)</text>
<text x="67.6" y="89.2" font-size="16.5" fill="#C2080E" stroke="#C2080E" stroke-width="0.55" text-anchor="end" font-weight="bold" font-style="normal">−11</text>
<text x="67.6" y="124.8" font-size="16.5" fill="#C2080E" stroke="#C2080E" stroke-width="0.55" text-anchor="end" font-weight="bold" font-style="normal">−10</text>
<text x="67.6" y="160.4" font-size="16.5" fill="#C2080E" stroke="#C2080E" stroke-width="0.55" text-anchor="end" font-weight="bold" font-style="normal">−<tspan dx="1.6">9</tspan></text>
<text x="67.6" y="196.0" font-size="16.5" fill="#C2080E" stroke="#C2080E" stroke-width="0.55" text-anchor="end" font-weight="bold" font-style="normal">−<tspan dx="1.6">8</tspan></text>
<text x="67.6" y="231.6" font-size="16.5" fill="#C2080E" stroke="#C2080E" stroke-width="0.55" text-anchor="end" font-weight="bold" font-style="normal">−<tspan dx="1.6">7</tspan></text>
<text x="67.6" y="275.8" font-size="16.5" fill="#80088E" stroke="#80088E" stroke-width="0.55" text-anchor="end" font-weight="bold" font-style="normal">22</text>
<text x="67.6" y="328.5" font-size="16.5" fill="#80088E" stroke="#80088E" stroke-width="0.55" text-anchor="end" font-weight="bold" font-style="normal">20</text>
<text x="67.6" y="386.6" font-size="16.5" fill="#6412CC" stroke="#6412CC" stroke-width="0.55" text-anchor="end" font-weight="bold" font-style="normal">1</text>
<text x="67.6" y="424.7" font-size="16.5" fill="#6412CC" stroke="#6412CC" stroke-width="0.55" text-anchor="end" font-weight="bold" font-style="normal">0</text>
<text x="67.6" y="462.8" font-size="16.5" fill="#6412CC" stroke="#6412CC" stroke-width="0.55" text-anchor="end" font-weight="bold" font-style="normal">−<tspan dx="1.2">1</tspan></text>
<text x="465.0" y="92.2" font-size="16.5" fill="#15B3BE" stroke="#15B3BE" stroke-width="0.55" text-anchor="start" font-weight="bold" font-style="normal">−<tspan dx="1.6">6</tspan></text>
<text x="465.0" y="157.0" font-size="16.5" fill="#15B3BE" stroke="#15B3BE" stroke-width="0.55" text-anchor="start" font-weight="bold" font-style="normal">−<tspan dx="1.6">5</tspan></text>
<text x="465.0" y="220.4" font-size="16.5" fill="#15B3BE" stroke="#15B3BE" stroke-width="0.55" text-anchor="start" font-weight="bold" font-style="normal">−<tspan dx="1.6">4</tspan></text>
<text x="465.0" y="242.4" font-size="16.5" fill="#C2650F" stroke="#C2650F" stroke-width="0.55" text-anchor="start" font-weight="bold" font-style="normal">22</text>
<text x="465.0" y="305.4" font-size="16.5" fill="#C2650F" stroke="#C2650F" stroke-width="0.55" text-anchor="start" font-weight="bold" font-style="normal">21</text>
<text x="465.0" y="368.5" font-size="16.5" fill="#C2650F" stroke="#C2650F" stroke-width="0.55" text-anchor="start" font-weight="bold" font-style="normal">20</text>
<text transform="translate(19.6,149.7) rotate(-90)" x="0" y="0" font-size="14" fill="#C2080E" stroke="#C2080E" stroke-width="0.55" text-anchor="middle" font-weight="bold">δ<tspan font-size="8.4" dy="-3.8">13</tspan><tspan dy="3.8">C (‰)</tspan></text>
<text transform="translate(30.4,291.5) rotate(-90)" x="0" y="0" font-size="14" fill="#80088E" stroke="#80088E" stroke-width="0.55" text-anchor="middle" font-weight="bold">SST (˚C)</text>
<text transform="translate(31.6,415.0) rotate(-90)" x="0" y="0" font-size="14" fill="#6412CC" stroke="#6412CC" stroke-width="0.55" text-anchor="middle" font-weight="bold">SST anomaly (˚C)</text>
<text transform="translate(514.6,149.5) rotate(-90)" x="0" y="0" font-size="14" fill="#15B3BE" stroke="#15B3BE" stroke-width="0.55" text-anchor="middle" font-weight="bold">δ<tspan font-size="8.4" dy="-3.8">18</tspan><tspan dy="3.8">O (‰)</tspan></text>
<text transform="translate(510.2,295.0) rotate(-90)" x="0" y="0" font-size="14" fill="#C2650F" stroke="#C2650F" stroke-width="0.55" text-anchor="middle" font-weight="bold">SST (˚C)</text></svg>
</body></html>
